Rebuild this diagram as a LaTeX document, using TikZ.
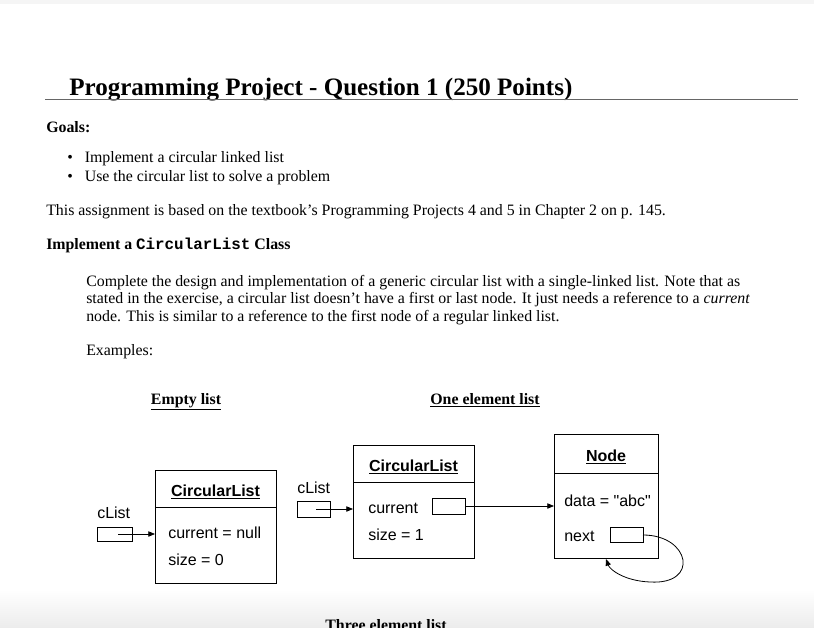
\documentclass[tikz,border=0pt]{standalone}
\usepackage{fontspec}
\setmainfont{Liberation Serif}
\newfontfamily\arial{Liberation Sans}
\newfontfamily\cour{Liberation Mono}
\usetikzlibrary{arrows.meta}
\begin{document}
\begin{tikzpicture}[x=0.75pt,y=-0.75pt,
  txt/.style={anchor=base west,inner sep=0,font=\fontsize{11.9}{13}\selectfont},
  btxt/.style={txt,font=\bfseries\fontsize{11.9}{13}\selectfont},
  dtxt/.style={anchor=base west,inner sep=0,font=\arial\fontsize{12}{14}\selectfont},
  box/.style={draw,line width=0.7pt},
  arr/.style={-{Triangle[length=5pt,width=4pt]},line width=0.6pt}]
\useasboundingbox (0,0) rectangle (814,628);
\fill[gray!8] (0,0) rectangle (814,4);
\shade[top color=white,bottom color=gray!15] (0,590) rectangle (814,628);
% header
\node[anchor=base west,inner sep=0,font=\bfseries\fontsize{18.8}{20}\selectfont] (title) at (69,95) {Programming Project - Question 1 (250 Points)};
\draw[line width=0.6pt,gray!80!black] (45,99) -- (798,99);
\node[btxt] (goals) at (46,132) {Goals:};
\node[txt] (b1) at (67,162) {\textbullet\hspace{9pt}Implement a circular linked list};
\node[txt] (b2) at (67,181) {\textbullet\hspace{9pt}Use the circular list to solve a problem};
\node[txt] (p1) at (46,215) {This assignment is based on the textbook's Programming Projects 4 and 5 in Chapter 2 on p. 145.};
\node[btxt] (h2) at (46,249) {Implement a {\cour\bfseries CircularList} Class};
\node[txt] (l1) at (86,286) {Complete the design and implementation of a generic circular list with a single-linked list. Note that as};
\node[txt] (l2) at (86,303) {stated in the exercise, a circular list doesn't have a first or last node. It just needs a reference to a \textit{current}};
\node[txt] (l3) at (86,321) {node. This is similar to a reference to the first node of a regular linked list.};
\node[txt] (ex) at (86,355) {Examples:};
\node[btxt,anchor=base] (e1) at (186,404) {\underline{Empty list}};
\node[btxt,anchor=base] (e2) at (485,404) {\underline{One element list}};
% empty list
\draw[box] (155,470) rectangle (276,583); \draw[box] (155,507) -- (276,507);
\node[dtxt,anchor=base,font=\arial\bfseries\fontsize{12}{14}\selectfont] (t1) at (215.5,496) {\underline{CircularList}};
\node[dtxt] (c1) at (168,538) {current = null};
\node[dtxt] (s1) at (168,565) {size = 0};
\node[dtxt] (cl1) at (97,518) {cList};
\draw[box,line width=0.6pt] (97,527) rectangle (132,541);
\coordinate (a1) at (118,534); \coordinate (a1e) at (155,534);
\draw[arr] (a1) -- (a1e);
% one element
\draw[box] (353,445) rectangle (474,558); \draw[box] (353,482) -- (474,482);
\node[dtxt,anchor=base,font=\arial\bfseries\fontsize{12}{14}\selectfont] (t2) at (413.5,471) {\underline{CircularList}};
\node[dtxt] (c2) at (368,513) {current};
\draw[box,line width=0.6pt] (432,498) rectangle (465,514);
\node[dtxt] (s2) at (368,540) {size = 1};
\node[dtxt] (cl2) at (297,493) {cList};
\draw[box,line width=0.6pt] (297,501) rectangle (330,517);
\coordinate (a2) at (316,509); \coordinate (a2e) at (353,509);
\draw[arr] (a2) -- (a2e);
\draw[box] (554,434) rectangle (658,558); \draw[box] (554,473) -- (658,473);
\node[dtxt,anchor=base,font=\arial\bfseries\fontsize{12}{14}\selectfont] (t3) at (606,461) {\underline{Node}};
\node[dtxt] (d3) at (564,506) {data = "abc"};
\node[dtxt] (n3) at (564,541) {next};
\draw[box,line width=0.6pt] (610,527) rectangle (643,542);
\coordinate (p3) at (465,506); \coordinate (p3e) at (554,506);
\draw[arr] (p3) -- (p3e);
\coordinate (q) at (643,535); \coordinate (qe) at (606,559);
\draw[arr] (q) .. controls (690,535) and (700,585) .. (650,582) .. controls (625,581) and (610,570) .. (qe);
\begin{scope}
\clip (0,0) rectangle (814,628);
\node[btxt,anchor=base] (e3) at (386,630) {Three element list};
\end{scope}
\end{tikzpicture}
\end{document}
